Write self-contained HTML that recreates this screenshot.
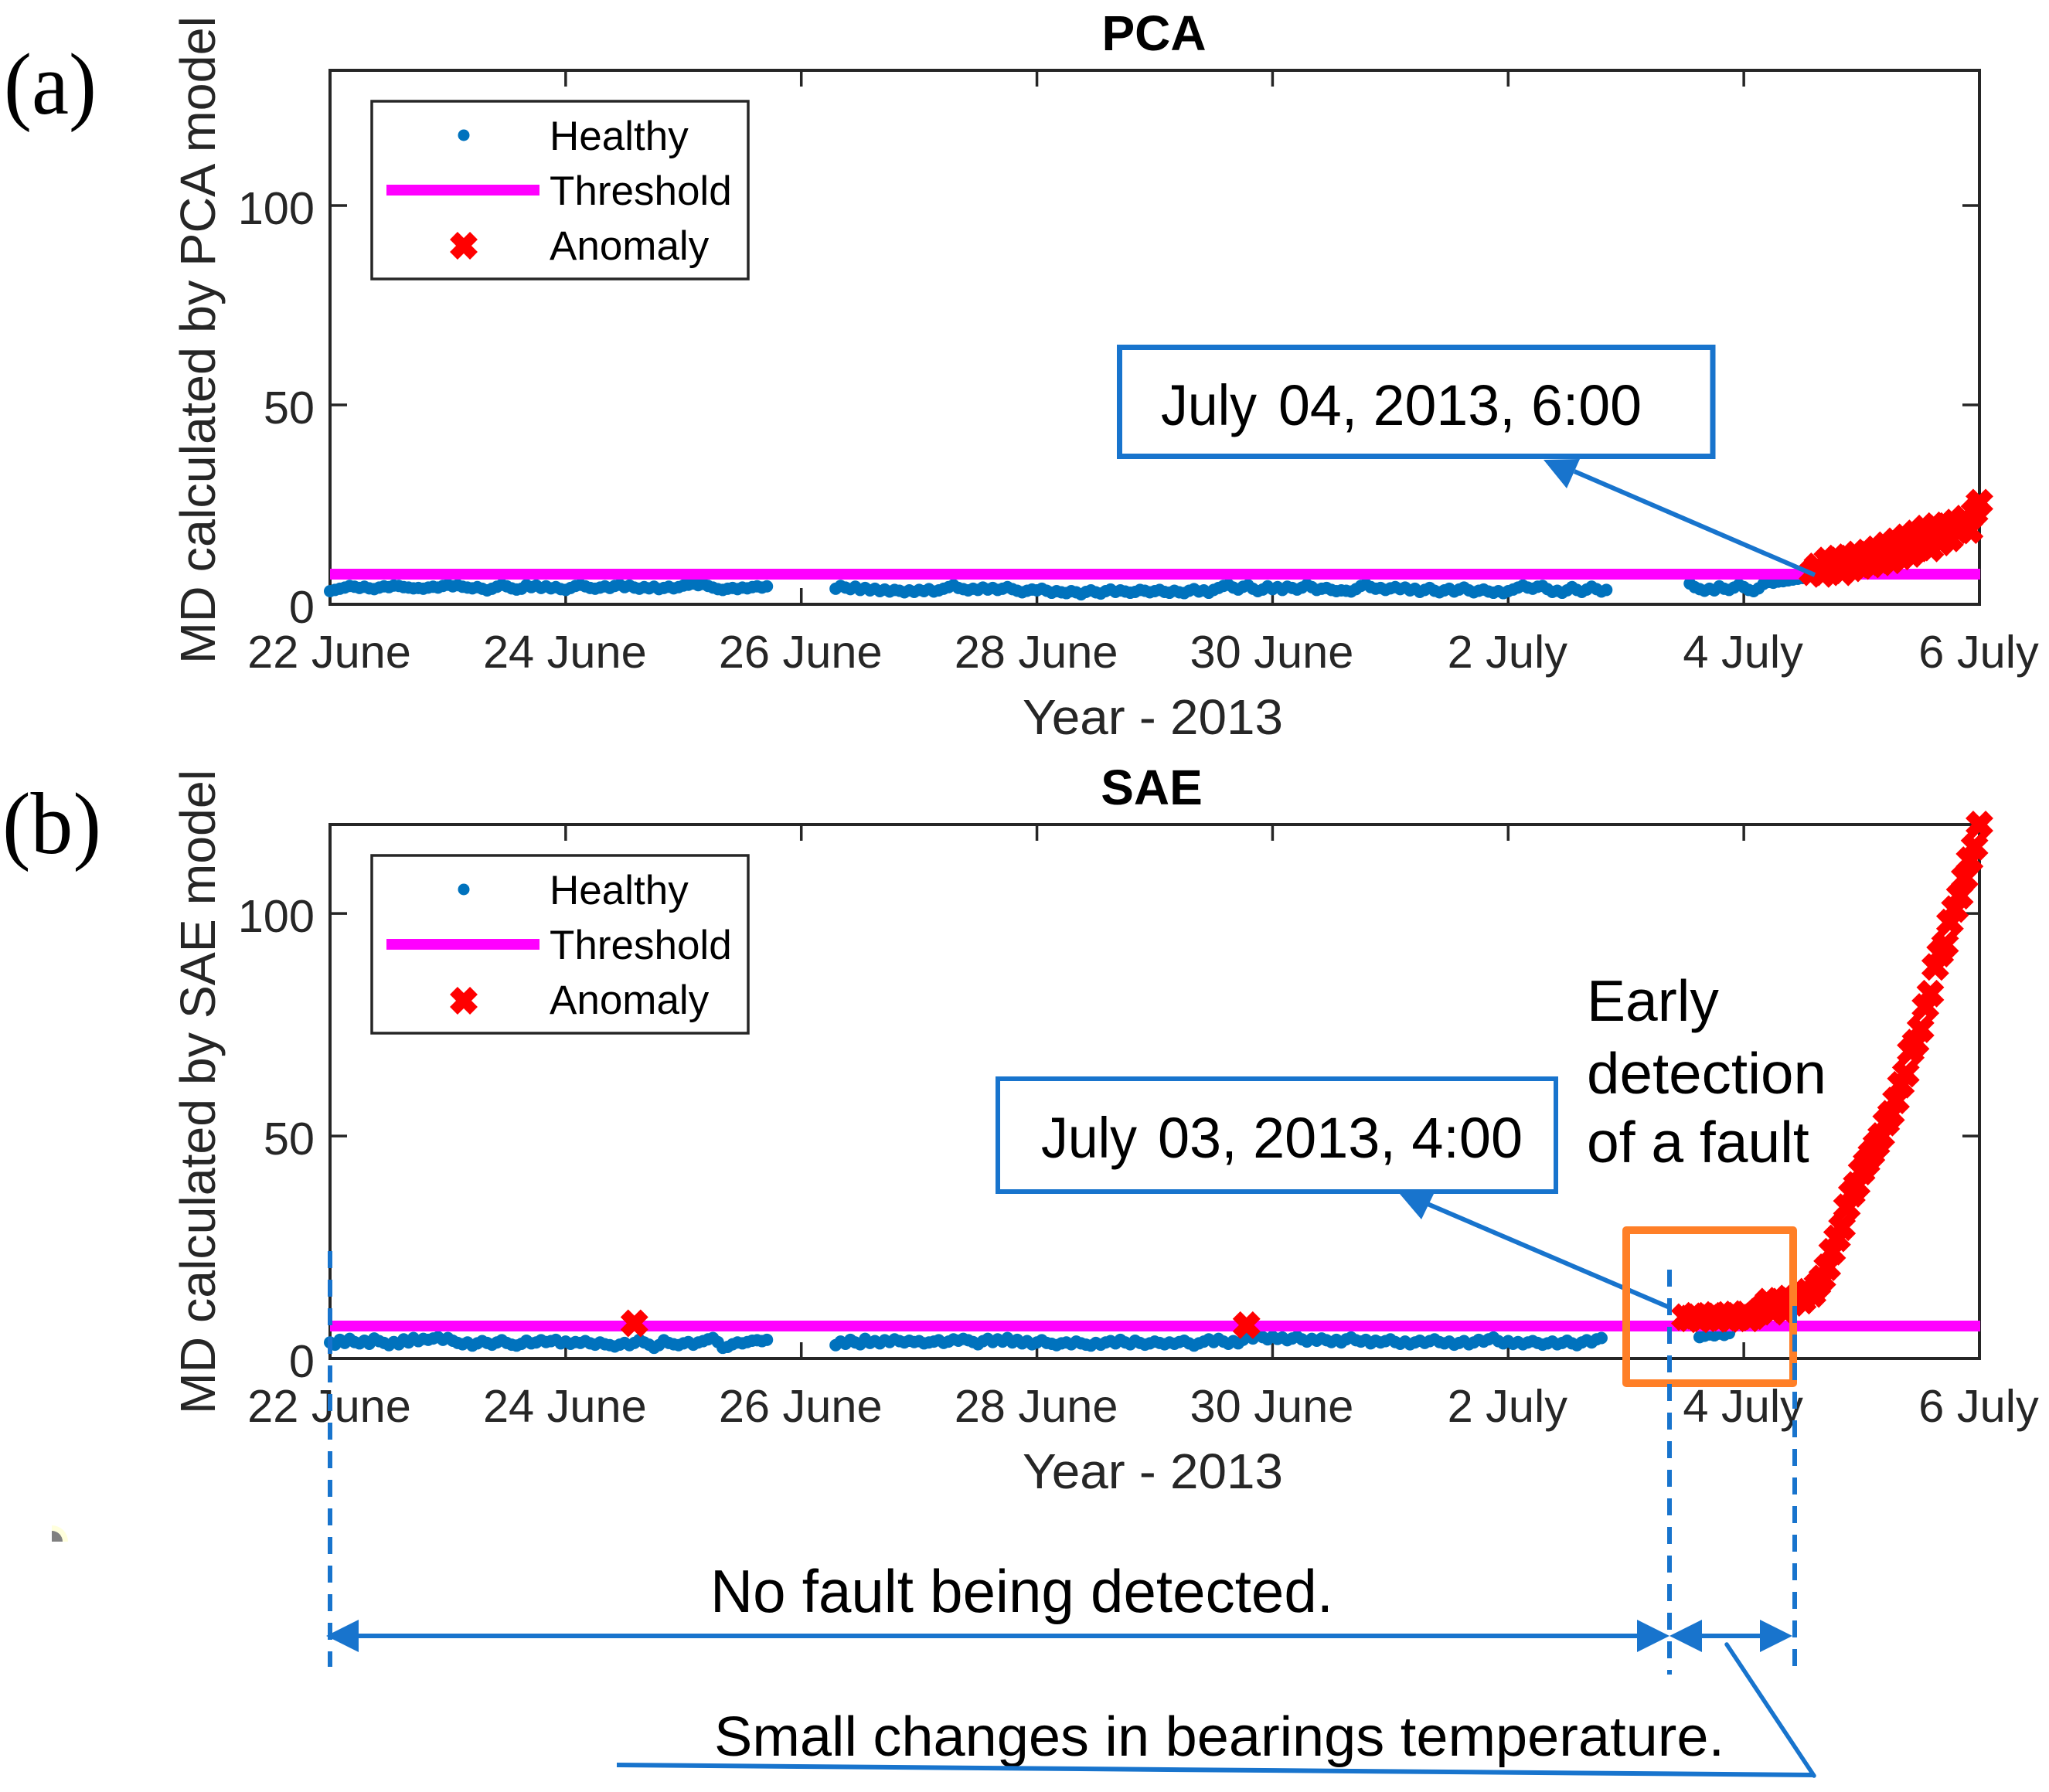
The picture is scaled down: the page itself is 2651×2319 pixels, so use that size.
<!DOCTYPE html>
<html lang="en">
<head>
<meta charset="utf-8">
<title>MD calculated by PCA and SAE models</title>
<style>
html,body{margin:0;padding:0;background:#fff;}
svg{display:block;font-family:"Liberation Sans",Arial,sans-serif;}
.tick-label{fill:#262626;font-size:59.5px;}
.axis-title{fill:#262626;font-size:64px;}
.legend-text{fill:#000;font-size:53px;}
.note{fill:#000;}
</style>
</head>
<body>
<svg id="figure" xmlns="http://www.w3.org/2000/svg" width="2651" height="2319" viewBox="0 0 2651 2319">
<rect x="0" y="0" width="2651" height="2319" fill="#fff"/>
<g id="panel-a"></g>
<g id="panel-b"></g>

<text x="5" y="147" font-family="'Liberation Serif',serif" font-size="113" fill="#000" textLength="120" lengthAdjust="spacingAndGlyphs">(a)</text>
<text x="3" y="1104" font-family="'Liberation Serif',serif" font-size="113" fill="#000" textLength="128" lengthAdjust="spacingAndGlyphs">(b)</text>

<text x="1500" y="65" font-size="64" font-weight="bold" fill="#000" text-anchor="middle" transform="translate(-7 0)">PCA</text>
<text x="1498" y="1041" font-size="64" font-weight="bold" fill="#000" text-anchor="middle" transform="translate(-8 0)">SAE</text>

<text class="axis-title" transform="translate(278 859) rotate(-90)" textLength="838" lengthAdjust="spacingAndGlyphs">MD calculated by PCA model</text>
<text class="axis-title" transform="translate(278 1830) rotate(-90)" textLength="834" lengthAdjust="spacingAndGlyphs">MD calculated by SAE model</text>

<text class="axis-title" x="1323" y="950" textLength="337" lengthAdjust="spacingAndGlyphs">Year - 2013</text>
<text class="axis-title" x="1323" y="1926" textLength="337" lengthAdjust="spacingAndGlyphs">Year - 2013</text>

<!-- legend panel a -->
<g>
  <rect x="481" y="131" width="487" height="230" fill="#fff" stroke="#262626" stroke-width="3.5"/>
  <circle cx="600" cy="175" r="7.5" fill="#0072BD"/>
  <line x1="500" x2="698" y1="246" y2="246" stroke="#FF00FF" stroke-width="14"/>
  <path d="M587 305L613 331M613 305L587 331" stroke="#FF0000" stroke-width="14" fill="none"/>
  <text class="legend-text" x="711" y="194">Healthy</text>
  <text class="legend-text" x="711" y="265">Threshold</text>
  <text class="legend-text" x="711" y="336">Anomaly</text>
</g>
<!-- legend panel b -->
<g>
  <rect x="481" y="1107" width="487" height="230" fill="#fff" stroke="#262626" stroke-width="3.5"/>
  <circle cx="600" cy="1151" r="7.5" fill="#0072BD"/>
  <line x1="500" x2="698" y1="1222" y2="1222" stroke="#FF00FF" stroke-width="14"/>
  <path d="M587 1282L613 1308M613 1282L587 1308" stroke="#FF0000" stroke-width="14" fill="none"/>
  <text class="legend-text" x="711" y="1170">Healthy</text>
  <text class="legend-text" x="711" y="1241">Threshold</text>
  <text class="legend-text" x="711" y="1312">Anomaly</text>
</g>

<!-- callout a -->
<g>
  <line x1="2037" y1="610" x2="2348" y2="744" stroke="#1874CD" stroke-width="6"/>
  <polygon points="1997,595 2044,594 2027,632" fill="#1874CD"/>
  <rect x="1448.5" y="449.5" width="767.5" height="141" fill="#fff" stroke="#1874CD" stroke-width="7"/>
  <text class="note" x="1502" y="550" font-size="74" textLength="124" lengthAdjust="spacingAndGlyphs">July</text>
  <text class="note" x="1654" y="550" font-size="74" textLength="470" lengthAdjust="spacingAndGlyphs">04, 2013, 6:00</text>
</g>
<!-- callout b -->
<g>
  <line x1="1847" y1="1558" x2="2160" y2="1692" stroke="#1874CD" stroke-width="6"/>
  <polygon points="1811,1545 1855,1545 1839,1578" fill="#1874CD"/>
  <rect x="1291" y="1396" width="722" height="146" fill="#fff" stroke="#1874CD" stroke-width="6"/>
  <text class="note" x="1347" y="1498" font-size="74" textLength="124" lengthAdjust="spacingAndGlyphs">July</text>
  <text class="note" x="1498" y="1498" font-size="74" textLength="472" lengthAdjust="spacingAndGlyphs">03, 2013, 4:00</text>
</g>

<text class="note" x="2053" y="1321" font-size="75">Early</text>
<text class="note" x="2053" y="1415" font-size="75" textLength="310" lengthAdjust="spacingAndGlyphs">detection</text>
<text class="note" x="2053" y="1504" font-size="75">of a fault</text>

<rect x="2104" y="1592" width="216" height="198" fill="none" stroke="#FF7F27" stroke-width="10" stroke-linejoin="round"/>

<line x1="427" x2="427" y1="1619" y2="2157" stroke="#1874CD" stroke-width="6" stroke-dasharray="22 15"/>
<line x1="2160" x2="2160" y1="1643" y2="2167" stroke="#1874CD" stroke-width="6" stroke-dasharray="22 15"/>
<line x1="2322" x2="2322" y1="1690" y2="2156" stroke="#1874CD" stroke-width="6" stroke-dasharray="22 15"/>

<g>
  <line x1="440" x2="2120" y1="2117" y2="2117" stroke="#1874CD" stroke-width="6"/>
  <line x1="2200" x2="2280" y1="2117" y2="2117" stroke="#1874CD" stroke-width="6"/>
  <polygon points="422,2117 464,2096 464,2138" fill="#1874CD"/>
  <polygon points="2160,2117 2118,2096 2118,2138" fill="#1874CD"/>
  <polygon points="2160,2117 2202,2096 2202,2138" fill="#1874CD"/>
  <polygon points="2319,2117 2277,2096 2277,2138" fill="#1874CD"/>
</g>

<text class="note" x="919" y="2086" font-size="78" textLength="806" lengthAdjust="spacingAndGlyphs">No fault being detected.</text>
<text class="note" x="924" y="2272" font-size="72" textLength="1307" lengthAdjust="spacingAndGlyphs">Small changes in bearings temperature.</text>
<line x1="798" y1="2284" x2="2347" y2="2297" stroke="#1874CD" stroke-width="6"/>
<line x1="2234" y1="2128" x2="2347" y2="2298" stroke="#1874CD" stroke-width="5.5" stroke-linecap="round"/>

<g>
  <path d="M67 1974A21 21 0 0 1 88 1995L67 1995Z" fill="#FFFFDD"/>
  <path d="M67 1981A14 14 0 0 1 81 1995L67 1995Z" fill="#808080"/>
</g>
</svg>
<script>
// ----- shared axis data -----
const xTickHours = [0, 48, 96, 144, 192, 240, 288, 336];
const xTickLabels = ['22 June', '24 June', '26 June', '28 June', '30 June', '2 July', '4 July', '6 July'];
const yTickValues = [0, 50, 100];
const yTickLabels = ['0', '50', '100'];

// ----- panel a (PCA) values, hourly samples -----
const pcaYMax = 133.9;
const pcaThreshold = 7.55;
const pcaHealthy1Start = 0;
const pcaHealthy1 = [3.3,3.6,3.9,4.2,4.6,4.4,4.1,4.4,4.0,3.8,4.2,4.5,4.3,4.7,4.6,4.3,4.2,4.0,4.1,3.9,4.2,4.4,4.2,4.6,4.9,4.5,4.8,4.4,4.2,4.0,4.3,3.9,3.5,3.9,4.4,4.9,4.5,4.0,3.7,3.9,4.8,4.3,4.7,4.1,4.5,4.0,4.3,3.8,3.6,4.1,4.6,4.9,4.5,4.1,3.9,4.2,4.5,4.1,4.6,4.9,4.3,4.7,4.2,3.9,4.3,4.0,4.4,3.8,4.1,4.4,4.0,4.3,4.7,4.9,5.2,4.8,5.1,4.6,4.2,3.8,3.6,3.9,4.1,3.8,4.2,4.0,4.3,4.5,4.2,4.5];
const pcaHealthy2Start = 103;
const pcaHealthy2 = [3.9,4.6,4.2,3.8,4.4,3.6,4.1,3.5,3.9,3.3,3.7,3.2,3.6,3.4,3.0,3.5,3.1,3.6,3.3,3.8,3.2,3.5,3.9,4.3,4.8,4.1,3.8,3.5,3.9,3.6,4.2,3.7,4.1,3.6,3.9,4.3,3.8,3.4,3.0,3.4,3.7,3.5,3.9,3.4,2.9,3.3,3.0,2.8,3.3,3.0,2.5,3.1,3.5,3.0,2.7,3.3,3.7,3.1,3.5,3.2,2.9,3.1,3.6,3.4,3.0,3.3,3.6,3.1,2.9,3.4,3.0,2.8,3.4,3.8,3.2,3.5,2.9,3.6,4.1,4.6,4.9,4.2,3.7,4.4,4.8,3.9,3.3,3.7,4.5,3.8,4.3,3.6,4.4,4.1,3.7,4.2,4.9,4.3,3.6,3.9,4.1,3.6,3.3,3.5,3.4,3.2,3.8,4.6,5.0,4.3,3.9,4.1,3.6,4.0,4.3,3.8,4.2,3.5,3.9,3.1,3.6,4.1,3.4,3.0,3.5,3.9,3.2,3.7,4.2,3.5,3.0,3.4,3.7,3.2,2.9,3.3,2.8,3.3,3.7,4.2,4.7,4.2,3.9,4.4,4.6,3.8,3.1,3.4,2.9,3.5,4.3,3.6,3.1,3.7,4.4,3.8,3.2,3.6];
const pcaHealthy3Start = 277;
const pcaHealthy3 = [5.2,4.3,3.8,3.4,3.9,3.5,4.5,3.9,3.6,4.2,4.9,4.3,3.6,3.3,4.0,5.1,5.6,5.4,5.7,5.8,6.0,6.2,6.4,6.6,6.9];
const pcaAnomalyStart = 302;
const pcaAnomaly = [8.0,9.5,7.6,11.0,8.5,11.5,8.0,11.8,9.0,12.5,9.6,13.0,10.0,13.8,10.5,14.8,11.0,15.8,12.0,16.8,12.6,17.8,14.2,19.0,14.0,19.6,15.5,19.8,16.5,20.5,18.5,21.5,18.6,23.0,25.5];

// ----- panel b (SAE) values, hourly samples -----
const saeYMax = 120;
const saeThreshold = 7.3;
const saeHealthy1Start = 0;
const saeHealthy1 = [3.6,3.1,4.2,3.5,4.4,3.7,3.4,4.0,3.3,4.5,3.9,3.5,3.0,3.7,3.2,4.3,3.6,4.6,3.9,4.4,4.2,4.5,4.8,4.2,4.6,4.0,3.5,3.2,3.6,2.9,3.4,3.9,3.5,3.1,3.6,4.1,3.5,3.1,2.9,3.3,4.0,3.4,3.6,4.1,3.7,3.9,4.2,3.4,3.8,3.3,3.7,3.5,3.9,3.4,3.1,3.6,3.2,3.0,2.7,3.1,3.5,3.0,3.5,4.2,3.6,3.1,2.4,3.0,4.1,3.5,3.2,3.0,3.4,3.7,3.1,3.6,3.9,4.3,4.6,3.7,2.4,2.6,3.2,3.6,3.4,3.7,4.0,4.1,3.9,4.2];
const saeHealthy2Start = 103;
const saeHealthy2 = [3.0,3.8,3.3,4.2,3.6,3.2,4.4,3.5,3.9,3.4,4.1,3.7,4.3,3.9,3.6,4.0,3.7,3.9,3.4,3.6,3.8,4.1,3.5,3.8,4.3,4.0,4.4,4.1,3.7,3.2,3.9,4.4,3.7,4.3,3.8,4.6,3.6,4.2,3.4,3.9,3.2,3.6,4.1,3.5,3.3,3.0,3.4,3.6,3.2,3.8,3.4,3.1,2.9,3.5,3.1,3.6,3.9,3.4,4.2,3.6,3.2,4.0,3.5,3.1,3.4,3.8,3.5,3.2,3.6,3.3,3.7,4.0,3.4,2.9,3.4,3.8,4.3,3.7,4.4,3.8,3.3,3.9,3.4,4.2,5.0,4.5,5.2,4.8,4.3,4.9,4.4,4.7,4.1,4.5,4.9,4.3,3.8,4.4,4.0,4.5,4.1,3.7,4.2,3.6,4.3,4.7,4.1,3.8,4.2,3.4,4.0,3.6,3.9,4.3,3.7,3.3,3.8,3.2,3.6,4.0,3.5,3.9,4.3,3.7,3.4,3.8,3.1,3.5,3.9,3.2,3.6,4.2,3.8,4.3,4.7,3.9,3.4,3.9,3.3,3.7,3.2,3.6,3.9,3.5,3.1,3.4,3.8,3.2,3.5,4.0,3.4,3.0,3.6,4.1,3.6,4.3,4.6];
const saeHealthy3Start = 279;
const saeHealthy3 = [4.8,5.1,5.4,5.2,5.6,5.3,5.7];
const saeAnomalyStart = 276;
const saeAnomaly = [9.3,9.0,9.6,8.8,9.5,9.2,9.8,9.0,9.6,8.9,9.9,9.2,10.0,9.0,9.5,10.5,11.5,12.8,10.5,13.0,11.0,13.5,12.5,14.0,13.0,15.0,14.5,16.5,18,20.5,24,27,29.5,34,37,39,42,44,46,48,50,53,55,58,61.5,64,69,71,74,79,82,88,91,93,98,101,104,108,112,115,120];
const saeIsolatedHours = [62, 186.7];
const saeIsolatedValues = [7.9, 7.5];

// ----- geometry of the axes (not data) -----
const SVGNS = 'http://www.w3.org/2000/svg';
const plotLeft = 427, plotRight = 2561, hourMax = 336;
function xScale(hour) { return plotLeft + hour * (plotRight - plotLeft) / hourMax; }
function yScaleFor(top, bottom, ymax) { return function (v) { return bottom - v * (bottom - top) / ymax; }; }
function mk(parent, tag, attrs) {
  const el = document.createElementNS(SVGNS, tag);
  for (const k in attrs) el.setAttribute(k, attrs[k]);
  parent.appendChild(el);
  return el;
}

function drawAxes(g, top, bottom, yOf) {
  const box = mk(g, 'rect', {x: plotLeft, y: top, width: plotRight - plotLeft, height: bottom - top, fill: '#fff', stroke: '#262626', 'stroke-width': 4});
  
  
  xTickHours.forEach(function (h, i) {
    const x = xScale(h);
    const t1 = mk(g, 'line', {x1: x, x2: x, y1: bottom, y2: bottom - 21, stroke: '#262626', 'stroke-width': 3.5});
    
    
    const t2 = mk(g, 'line', {x1: x, x2: x, y1: top, y2: top + 21, stroke: '#262626', 'stroke-width': 3.5});
    
    
    const lab = mk(g, 'text', {x: x - 1, y: bottom + 82, 'text-anchor': 'middle', class: 'tick-label'});
    lab.textContent = xTickLabels[i];
    
    
  });
  yTickValues.forEach(function (v, i) {
    const y = yOf(v);
    const t1 = mk(g, 'line', {x1: plotLeft, x2: plotLeft + 22, y1: y, y2: y, stroke: '#262626', 'stroke-width': 3.5});
    
    
    const t2 = mk(g, 'line', {x1: plotRight, x2: plotRight - 22, y1: y, y2: y, stroke: '#262626', 'stroke-width': 3.5});
    
    
    const lab = mk(g, 'text', {x: 407, y: y + 24, 'text-anchor': 'end', class: 'tick-label'});
    lab.textContent = yTickLabels[i];
    
    
  });
}

function drawHealthy(g, start, values, yOf) {
  values.forEach(function (v, i) {
    const c = mk(g, 'circle', {cx: xScale(start + i), cy: yOf(v), r: 8, fill: '#0072BD'});
    
    
  });
}

function drawThreshold(g, value, yOf) {
  const l = mk(g, 'line', {x1: plotLeft, x2: plotRight + 1, y1: yOf(value), y2: yOf(value), stroke: '#FF00FF', 'stroke-width': 14});
  
  
}

function drawAnomaly(g, hour, value, yOf) {
  const x = xScale(hour), y = yOf(value);
  const p = mk(g, 'path', {d: 'M' + (x - 13) + ' ' + (y - 13) + 'L' + (x + 13) + ' ' + (y + 13) + 'M' + (x + 13) + ' ' + (y - 13) + 'L' + (x - 13) + ' ' + (y + 13), stroke: '#FF0000', 'stroke-width': 14, fill: 'none'});
  
  
}

// panel a
const gA = document.getElementById('panel-a');
const yA = yScaleFor(91, 782, pcaYMax);
drawAxes(gA, 91, 782, yA);
drawHealthy(gA, pcaHealthy1Start, pcaHealthy1, yA);
drawHealthy(gA, pcaHealthy2Start, pcaHealthy2, yA);
drawHealthy(gA, pcaHealthy3Start, pcaHealthy3, yA);
drawThreshold(gA, pcaThreshold, yA);
pcaAnomaly.forEach(function (v, i) { drawAnomaly(gA, pcaAnomalyStart + i, v, yA); });

// panel b
const gB = document.getElementById('panel-b');
const yB = yScaleFor(1067, 1758, saeYMax);
drawAxes(gB, 1067, 1758, yB);
drawHealthy(gB, saeHealthy1Start, saeHealthy1, yB);
drawHealthy(gB, saeHealthy2Start, saeHealthy2, yB);
drawHealthy(gB, saeHealthy3Start, saeHealthy3, yB);
drawThreshold(gB, saeThreshold, yB);
saeIsolatedHours.forEach(function (h, i) { drawAnomaly(gB, h, saeIsolatedValues[i], yB); });
saeAnomaly.forEach(function (v, i) { drawAnomaly(gB, saeAnomalyStart + i, v, yB); });
</script>
</body>
</html>
